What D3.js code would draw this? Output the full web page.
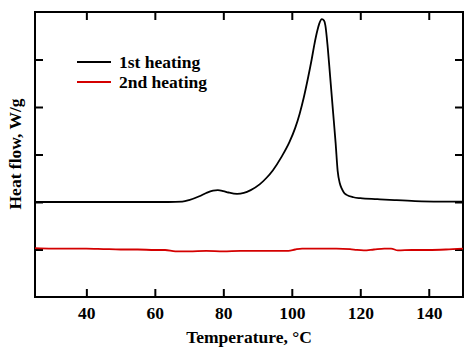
<!DOCTYPE html>
<html>
<head>
<meta charset="utf-8">
<script src="https://cdn.jsdelivr.net/npm/d3@7"></script>
<style>
  body { margin: 0; background: #fff; }
  svg text { font-family: "Liberation Serif", "Times New Roman", serif; font-weight: bold; }
</style>
</head>
<body>
<svg id="chart"></svg>
<script>
/* データ */
let temp1 = [25, 40, 55, 64, 68, 70, 73, 75, 77, 78.4, 80, 81.5, 84, 86, 88, 90.6, 92.5, 94.5, 97, 99.3, 101, 102.3, 103.5, 104.7, 105.8, 106.6, 107.5, 108, 108.8, 109.4, 109.8, 110.5, 111.2, 112, 112.8, 113.4, 114, 114.6, 115.2, 116, 118, 120, 125, 130, 136, 143, 150];
let heat1 = [2.0, 2.0, 2.0, 2.0, 2.01, 2.04, 2.12, 2.19, 2.24, 2.25, 2.23, 2.2, 2.17, 2.19, 2.25, 2.37, 2.5, 2.67, 2.95, 3.26, 3.56, 3.86, 4.2, 4.6, 5.0, 5.32, 5.62, 5.75, 5.85, 5.82, 5.72, 5.25, 4.64, 3.94, 3.24, 2.65, 2.4, 2.28, 2.2, 2.15, 2.1, 2.08, 2.06, 2.04, 2.02, 2.01, 2.01];

let temp2 = [25, 30, 35, 40, 45, 50, 55, 60, 63, 66, 70, 75, 80, 85, 90, 95, 99, 101, 103, 108, 113, 117, 119, 121, 124, 127, 129, 131, 135, 140, 145, 150];
let heat2 = [1.03, 1.02, 1.02, 1.02, 1.01, 1.0, 1.0, 0.99, 0.99, 0.96, 0.96, 0.97, 0.96, 0.97, 0.97, 0.97, 0.97, 1.0, 1.02, 1.02, 1.02, 1.01, 0.99, 0.98, 1.0, 1.02, 1.02, 0.98, 0.99, 0.99, 1.0, 1.02];

let seriesNames = ["1st heating", "2nd heating"];
let seriesColors = ["#000000", "#d40000"];
let xTicks = [40, 60, 80, 100, 120, 140];
let yTicks = [1, 2, 3, 4, 5];

/* サイズ */
let width = 474;
let height = 351;
let margin = { left: 35, right: 11, top: 12, bottom: 54 };
let fontSize = 17.5;

let svg = d3.select("#chart")
  .attr("width", width)
  .attr("height", height);

/* スケール */
let xScale = d3.scaleLinear()
  .domain([25, 150])
  .range([margin.left, width - margin.right]);
let yScale = d3.scaleLinear()
  .domain([0, 6])
  .range([height - margin.bottom, margin.top]);

/* 軸 (目盛りは内向き) */
let tickLen = 8;

svg.append("g")
  .attr("class", "x_axis")
  .attr("transform", "translate(0," + (height - margin.bottom) + ")")
  .call(d3.axisBottom(xScale).tickValues(xTicks).tickSizeInner(-tickLen).tickSizeOuter(0).tickPadding(10))
  .call(g => g.select(".domain").remove())
  .call(g => g.selectAll("line").attr("stroke-width", 2))
  .call(g => g.selectAll("text").attr("font-size", fontSize).attr("fill", "#000"));

svg.append("g")
  .attr("transform", "translate(0," + margin.top + ")")
  .call(d3.axisTop(xScale).tickValues(xTicks).tickSizeInner(-tickLen).tickSizeOuter(0).tickFormat(""))
  .call(g => g.select(".domain").remove())
  .call(g => g.selectAll("line").attr("stroke-width", 2));

svg.append("g")
  .attr("transform", "translate(" + margin.left + ",0)")
  .call(d3.axisLeft(yScale).tickValues(yTicks).tickSizeInner(-tickLen).tickSizeOuter(0).tickFormat(""))
  .call(g => g.select(".domain").remove())
  .call(g => g.selectAll("line").attr("stroke-width", 2));

svg.append("g")
  .attr("transform", "translate(" + (width - margin.right) + ",0)")
  .call(d3.axisRight(yScale).tickValues(yTicks).tickSizeInner(-tickLen).tickSizeOuter(0).tickFormat(""))
  .call(g => g.select(".domain").remove())
  .call(g => g.selectAll("line").attr("stroke-width", 2));

/* 枠 */
svg.append("rect")
  .attr("x", margin.left)
  .attr("y", margin.top)
  .attr("width", width - margin.left - margin.right)
  .attr("height", height - margin.top - margin.bottom)
  .attr("fill", "none")
  .attr("stroke", "#000")
  .attr("stroke-width", 2);

/* 曲線 */
let line = d3.line()
  .x(d => xScale(d[0]))
  .y(d => yScale(d[1]))
  .curve(d3.curveMonotoneX);

let series = [
  d3.zip(temp1, heat1),
  d3.zip(temp2, heat2)
];

svg.selectAll(".series")
  .data(series)
  .join("path")
  .attr("class", "series")
  .attr("d", line)
  .attr("fill", "none")
  .attr("stroke", (d, i) => seriesColors[i])
  .attr("stroke-width", 1.8);

/* 凡例 */
let legend = svg.append("g").attr("transform", "translate(77,62)");
seriesNames.forEach((name, i) => {
  let row = legend.append("g").attr("transform", "translate(0," + (i * 20) + ")");
  row.append("line")
    .attr("x1", 0).attr("x2", 34)
    .attr("stroke", seriesColors[i])
    .attr("stroke-width", 1.8);
  row.append("text")
    .attr("x", 42)
    .attr("y", 6)
    .attr("font-size", fontSize)
    .text(name);
});

/* 軸タイトル */
svg.append("text")
  .attr("x", (margin.left + width - margin.right) / 2)
  .attr("y", 343)
  .attr("text-anchor", "middle")
  .attr("font-size", fontSize)
  .text("Temperature, °C");

svg.append("text")
  .attr("transform", "translate(21,154) rotate(-90)")
  .attr("text-anchor", "middle")
  .attr("font-size", fontSize)
  .text("Heat flow, W/g");
</script>
</body>
</html>
